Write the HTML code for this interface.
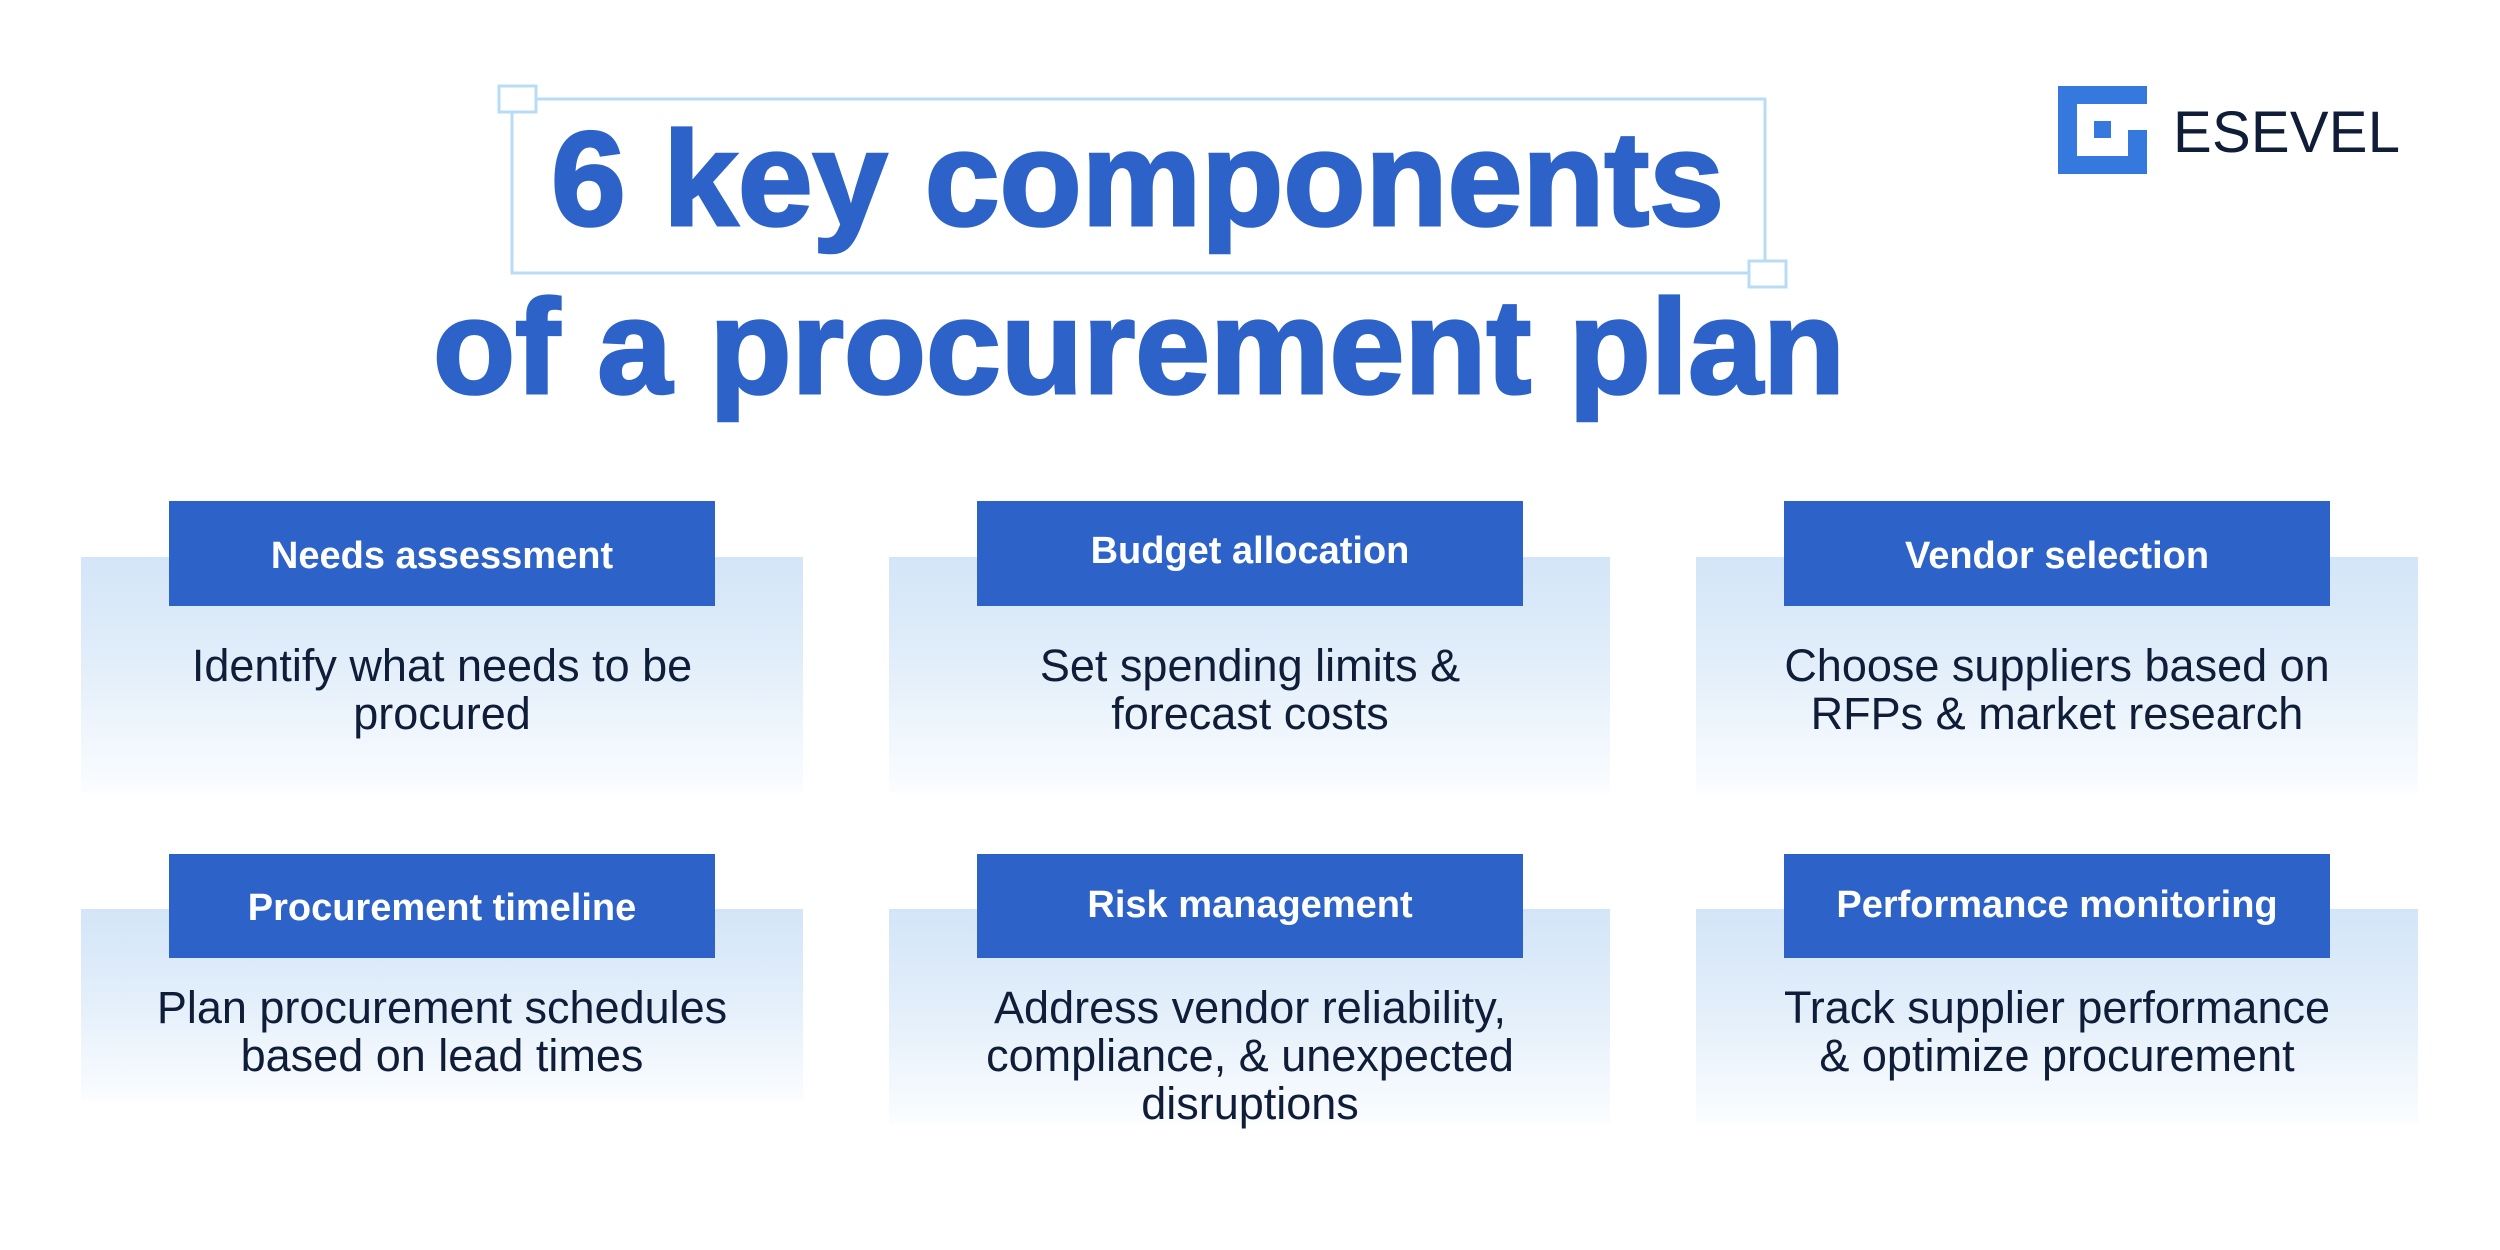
<!DOCTYPE html>
<html><head><meta charset="utf-8"><style>
html,body{margin:0;padding:0;background:#fff;}
svg{display:block;}
.h{font-family:"Liberation Sans",sans-serif;font-weight:bold;font-size:38px;fill:#fff;text-anchor:middle;}
.b{font-family:"Liberation Sans",sans-serif;font-size:45px;fill:#0f1d38;text-anchor:middle;}
</style></head><body>
<svg width="2500" height="1250" viewBox="0 0 2500 1250" xmlns="http://www.w3.org/2000/svg">
<defs>
<linearGradient id="g" x1="0" y1="0" x2="0" y2="1">
<stop offset="0" stop-color="#d3e5f8"/><stop offset="0.45" stop-color="#e2eefa"/><stop offset="1" stop-color="#fbfdff"/>
</linearGradient>
</defs>
<rect x="512" y="99" width="1253" height="174" fill="none" stroke="#b9dcf5" stroke-width="3"/>
<rect x="499" y="86" width="37" height="26" fill="#fff" stroke="#b9dcf5" stroke-width="3"/>
<rect x="1749" y="261" width="37" height="26" fill="#fff" stroke="#b9dcf5" stroke-width="3"/>
<text x="551" y="225" font-family="Liberation Sans,sans-serif" font-weight="bold" font-size="134" fill="#2d63c8" stroke="#2d63c8" stroke-width="3" textLength="1173" lengthAdjust="spacingAndGlyphs">6 key components</text>
<text x="433" y="393" font-family="Liberation Sans,sans-serif" font-weight="bold" font-size="134" fill="#2d63c8" stroke="#2d63c8" stroke-width="3" textLength="1412" lengthAdjust="spacingAndGlyphs">of a procurement plan</text>
<rect x="2058" y="86" width="89" height="88" fill="#3679de"/>
<rect x="2077" y="104" width="70" height="26" fill="#fff"/>
<rect x="2077" y="104" width="51" height="52" fill="#fff"/>
<rect x="2094" y="121" width="17" height="17" fill="#3679de"/>
<text x="2173" y="152" font-family="Liberation Sans,sans-serif" font-size="58" fill="#0f1d38" textLength="227" lengthAdjust="spacing">ESEVEL</text>
<rect x="81" y="557" width="722" height="236" fill="url(#g)"/>
<rect x="889" y="557" width="721" height="236" fill="url(#g)"/>
<rect x="1696" y="557" width="722" height="236" fill="url(#g)"/>
<rect x="169" y="501" width="546" height="105" fill="#2d63c8"/>
<rect x="977" y="501" width="546" height="105" fill="#2d63c8"/>
<rect x="1784" y="501" width="546" height="105" fill="#2d63c8"/>
<text class="h" x="442" y="568">Needs assessment</text>
<text class="h" x="1250" y="563">Budget allocation</text>
<text class="h" x="2057" y="568">Vendor selection</text>
<text class="b" x="442" y="681">Identify what needs to be</text>
<text class="b" x="442" y="729">procured</text>
<text class="b" x="1250" y="681">Set spending limits &amp;</text>
<text class="b" x="1250" y="729">forecast costs</text>
<text class="b" x="2057" y="681">Choose suppliers based on</text>
<text class="b" x="2057" y="729">RFPs &amp; market research</text>
<rect x="81" y="909" width="722" height="192" fill="url(#g)"/>
<rect x="889" y="909" width="721" height="215" fill="url(#g)"/>
<rect x="1696" y="909" width="722" height="215" fill="url(#g)"/>
<rect x="169" y="854" width="546" height="104" fill="#2d63c8"/>
<rect x="977" y="854" width="546" height="104" fill="#2d63c8"/>
<rect x="1784" y="854" width="546" height="104" fill="#2d63c8"/>
<text class="h" x="442" y="920">Procurement timeline</text>
<text class="h" x="1250" y="917">Risk management</text>
<text class="h" x="2057" y="917">Performance monitoring</text>
<text class="b" x="442" y="1023">Plan procurement schedules</text>
<text class="b" x="442" y="1071">based on lead times</text>
<text class="b" x="1250" y="1023">Address vendor reliability,</text>
<text class="b" x="1250" y="1071">compliance, &amp; unexpected</text>
<text class="b" x="1250" y="1119">disruptions</text>
<text class="b" x="2057" y="1023">Track supplier performance</text>
<text class="b" x="2057" y="1071">&amp; optimize procurement</text>
</svg>
</body></html>
